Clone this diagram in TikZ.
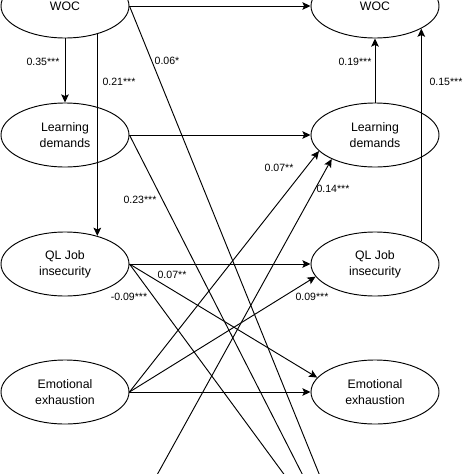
\documentclass[tikz,border=0pt]{standalone}
\usepackage{fontspec}
\setmainfont{Liberation Sans}
\usetikzlibrary{shapes.geometric,arrows.meta}
\begin{document}
\begin{tikzpicture}[x=0.03cm, y=-0.03cm,
    mylatent/.style={ellipse, draw, line width=0.8pt, minimum width=3.84cm, minimum height=1.92cm, inner sep=0pt, align=center, font=\fontsize{10.5}{13.6}\selectfont},
    myarrow/.style={-{Stealth[length=7pt, width=6.5pt, inset=1.5pt]}, line width=0.8pt},
    myline/.style={line width=0.8pt},
    mylabel/.style={font=\fontsize{9}{11}\selectfont, inner sep=0pt},
]
\useasboundingbox (0,0) rectangle (474,474);
\clip (0,0) rectangle (474,474);

% time 1
\node[mylatent] (woc1) at (65,6) {WOC};
\node[mylatent] (ld1) at (65,135) {Learning\\demands};
\node[mylatent] (ql1) at (65,264) {QL Job\\insecurity};
\node[mylatent] (ee1) at (65,392) {Emotional\\exhaustion};

% time 2
\node[mylatent] (woc2) at (375,6) {WOC};
\node[mylatent] (ld2) at (375,135) {Learning\\demands};
\node[mylatent] (ql2) at (375,264) {QL Job\\insecurity};
\node[mylatent] (ee2) at (375,392) {Emotional\\exhaustion};

% ends below the crop
\coordinate (woc3) at (354,560);
\coordinate (ld3) at (346,560);
\coordinate (ql3) at (347,560);
\coordinate (src3) at (110,560);

% stability paths
\draw[myarrow] (woc1.east) -- (woc2.west);
\draw[myarrow] (ld1.east) -- (ld2.west);
\draw[myarrow] (ql1.east) -- (ql2.west);
\draw[myarrow] (ee1.east) -- (ee2.west);

% within time
\draw[myarrow] (woc1.south) -- (ld1.north);
\draw[myarrow] (woc1.-41) -- (ql1.41);
\draw[myarrow] (ld2.north) -- (woc2.south);
\draw[myarrow] (ql2.26) -- (woc2.-26);

% cross-lagged
\draw[myarrow] (ee1.east) -- (ld2.196);
\draw[myarrow] (ee1.east) -- (ql2.192);
\draw[myarrow] (ql1.east) -- (ee2.166);
\draw[myarrow] (src3) -- (ld2.209);
\draw[myline] (woc1.east) -- (woc3);
\draw[myline] (ld1.east) -- (ld3);
\draw[myline] (ql1.east) -- (ql3);

\node[mylabel] (l35) at (43,62) {0.35***};
\node[mylabel] (l21) at (119,82) {0.21***};
\node[mylabel] (l06) at (167,61) {0.06*};
\node[mylabel] (l23) at (140,200) {0.23***};
\node[mylabel] (l19) at (355,62) {0.19***};
\node[mylabel] (l15) at (446,82) {0.15***};
\node[mylabel] (l07a) at (279,168) {0.07**};
\node[mylabel] (l14) at (333,189) {0.14***};
\node[mylabel] (l07b) at (172,275) {0.07**};
\node[mylabel] (l09a) at (129,297) {-0.09***};
\node[mylabel] (l09b) at (312,297) {0.09***};
\end{tikzpicture}
\end{document}
